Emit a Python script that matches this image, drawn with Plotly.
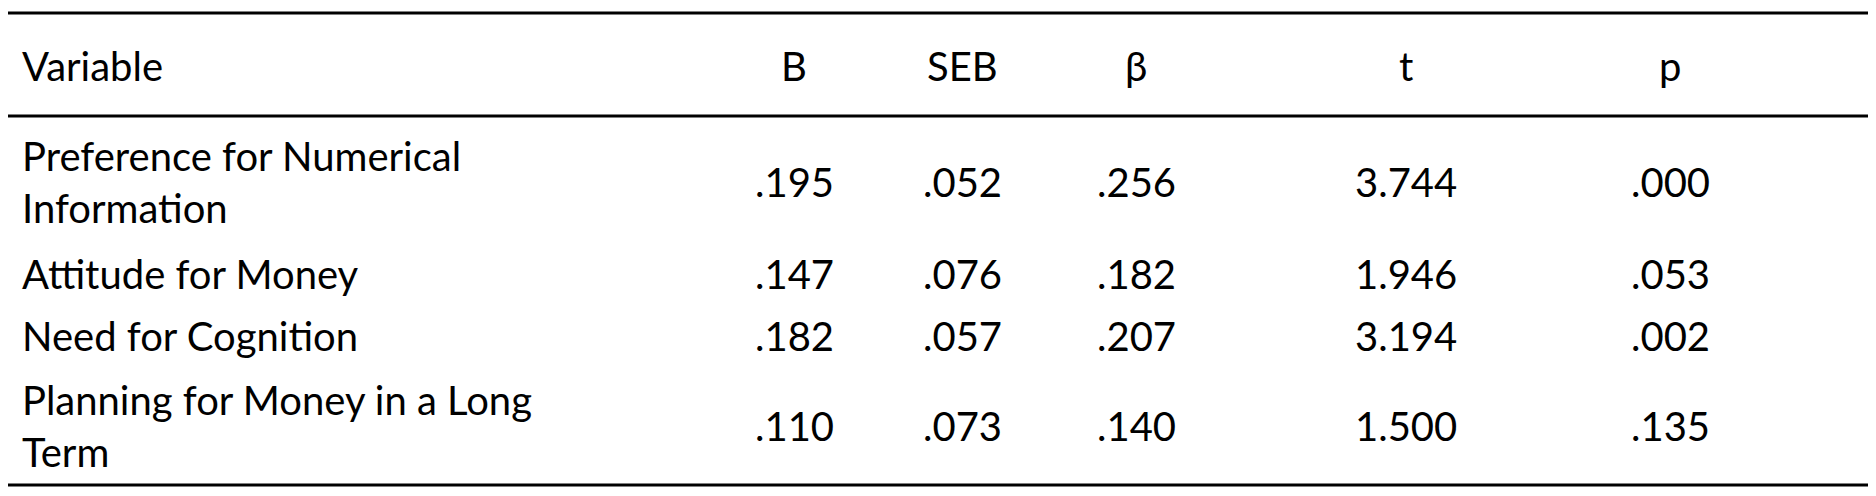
import plotly.graph_objects as go

W, H = 1876, 496

headers = ['Variable', 'B', 'SEB', 'β', 't', 'p']
variables = ['Preference for Numerical<br>Information', 'Attitude for Money',
             'Need for Cognition', 'Planning for Money in a Long<br>Term']
b_vals = ['.195', '.147', '.182', '.110']
seb_vals = ['.052', '.076', '.057', '.073']
beta_vals = ['.256', '.182', '.207', '.140']
t_vals = ['3.744', '1.946', '3.194', '1.500']
p_vals = ['.000', '.053', '.002', '.135']
footnote = 'Dependent Variable'

col_x = [12, 786, 954, 1128, 1398, 1662]
row_y = [174, 266, 328, 418]
FONT = dict(family='Lato, Carlito, Calibri, sans-serif', size=40, color='black')

fig = go.Figure()
fig.add_trace(go.Scatter(x=[0, W], y=[0, H], mode='markers', marker=dict(opacity=0),
                         hoverinfo='skip', showlegend=False))

ann = []
for i, h in enumerate(headers):
    ann.append(dict(x=col_x[i], y=58, text=h, showarrow=False, font=FONT,
                    xanchor='left' if i == 0 else 'center', yanchor='middle'))
cols = [variables, b_vals, seb_vals, beta_vals, t_vals, p_vals]
for j, y in enumerate(row_y):
    for i, col in enumerate(cols):
        ann.append(dict(x=col_x[i], y=y, text=col[j], showarrow=False, font=FONT,
                        align='left', xanchor='left' if i == 0 else 'center', yanchor='middle'))
ann.append(dict(x=72, y=500, text='<i>' + footnote + '</i>', showarrow=False,
                font=FONT, xanchor='left', yanchor='middle'))

for y in [5, 108, 477]:
    fig.add_shape(type='line', x0=0, x1=1860, y0=y, y1=y, line=dict(color='black', width=3))

fig.update_layout(width=W, height=H, margin=dict(l=0, r=0, t=0, b=0),
                  plot_bgcolor='white', paper_bgcolor='white', annotations=ann,
                  xaxis=dict(range=[0, W], visible=False, fixedrange=True),
                  yaxis=dict(range=[H, 0], visible=False, fixedrange=True))
fig.write_html("out.html")
